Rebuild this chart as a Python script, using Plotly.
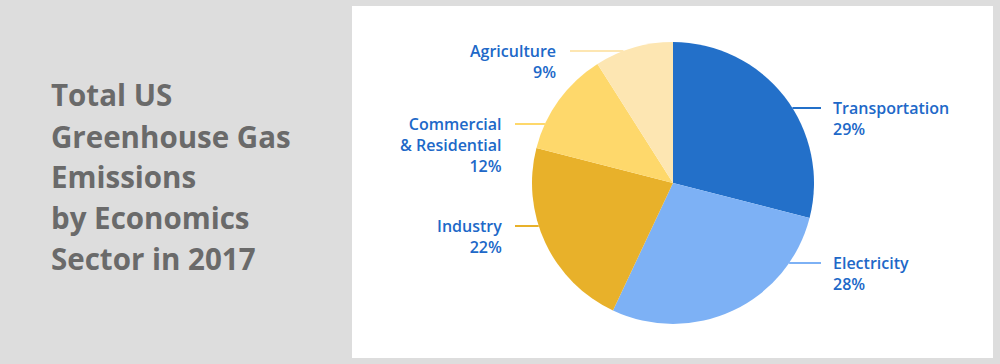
import plotly.graph_objects as go
import math

# ---- data ----
sectors = ["Transportation", "Electricity", "Industry", "Commercial<br>& Residential", "Agriculture"]
shares = [29, 28, 22, 12, 9]
colors = ["#2370c9", "#7db1f5", "#e8b12a", "#fed86b", "#fde6b2"]
title_lines = ["Total US", "Greenhouse Gas", "Emissions", "by Economics", "Sector in 2017"]

# ---- layout constants (pixels) ----
W, H = 1000, 364
CX, CY, R = 673, 183, 141
# label placement: (side, leader line y, leader outer x, text x)
label_pos = [
    ("right", 108, 821, 831),
    ("right", 263, 821, 831),
    ("left", 226, 515, 504),
    ("left", 124, 515, 504),
    ("left", 51, 570, 558),
]
LINE_H = 20

def px(x):
    return x / W

def py(y):
    return 1 - y / H

fig = go.Figure()
fig.add_trace(go.Pie(
    labels=sectors, values=shares, sort=False, direction="clockwise", rotation=0,
    marker=dict(colors=colors, line=dict(width=0)),
    textinfo="none", hoverinfo="label+percent", showlegend=False,
    domain=dict(x=[px(CX - R), px(CX + R)], y=[py(CY + R), py(CY - R)]),
))

shapes = [dict(type="rect", xref="paper", yref="paper", x0=px(352), x1=px(993),
               y0=py(358), y1=py(6), fillcolor="white", line=dict(width=0), layer="below")]
annotations = []
lab_font = dict(family="Open Sans", size=16, color="#2068c8", weight=600)
for name, val, col, (side, ly, lx, tx) in zip(sectors, shares, colors, label_pos):
    dy = ly - CY
    edge = math.sqrt(max(R * R - dy * dy, 0))
    ex = CX + edge if side == "right" else CX - edge
    shapes.append(dict(type="line", xref="paper", yref="paper", x0=px(ex), x1=px(lx),
                       y0=py(ly), y1=py(ly), line=dict(color=col, width=2)))
    text = f"{name}<br>{val}%"
    annotations.append(dict(
        xref="paper", yref="paper", x=px(tx), y=py(ly - LINE_H / 2 - 3),
        xanchor="left" if side == "right" else "right", yanchor="top",
        align="left" if side == "right" else "right",
        text=text, showarrow=False, font=lab_font,
    ))

title_base = [96, 137, 177, 218, 259]
for t, y in zip(title_lines, title_base):
    annotations.append(dict(
        xref="paper", yref="paper", x=px(49), y=py(y - 1), xanchor="left", yanchor="middle",
        text=f"<b>{t}</b>", showarrow=False,
        font=dict(family="Open Sans", size=29.5, color="#6a6a6a"),
    ))

fig.update_layout(
    width=W, height=H, margin=dict(l=0, r=0, t=0, b=0),
    paper_bgcolor="#dddddd", plot_bgcolor="#dddddd",
    shapes=shapes, annotations=annotations,
)
fig.write_html("out.html", config={"displayModeBar": False},
               post_script="document.body.style.margin='0';document.body.style.overflow='hidden';")
